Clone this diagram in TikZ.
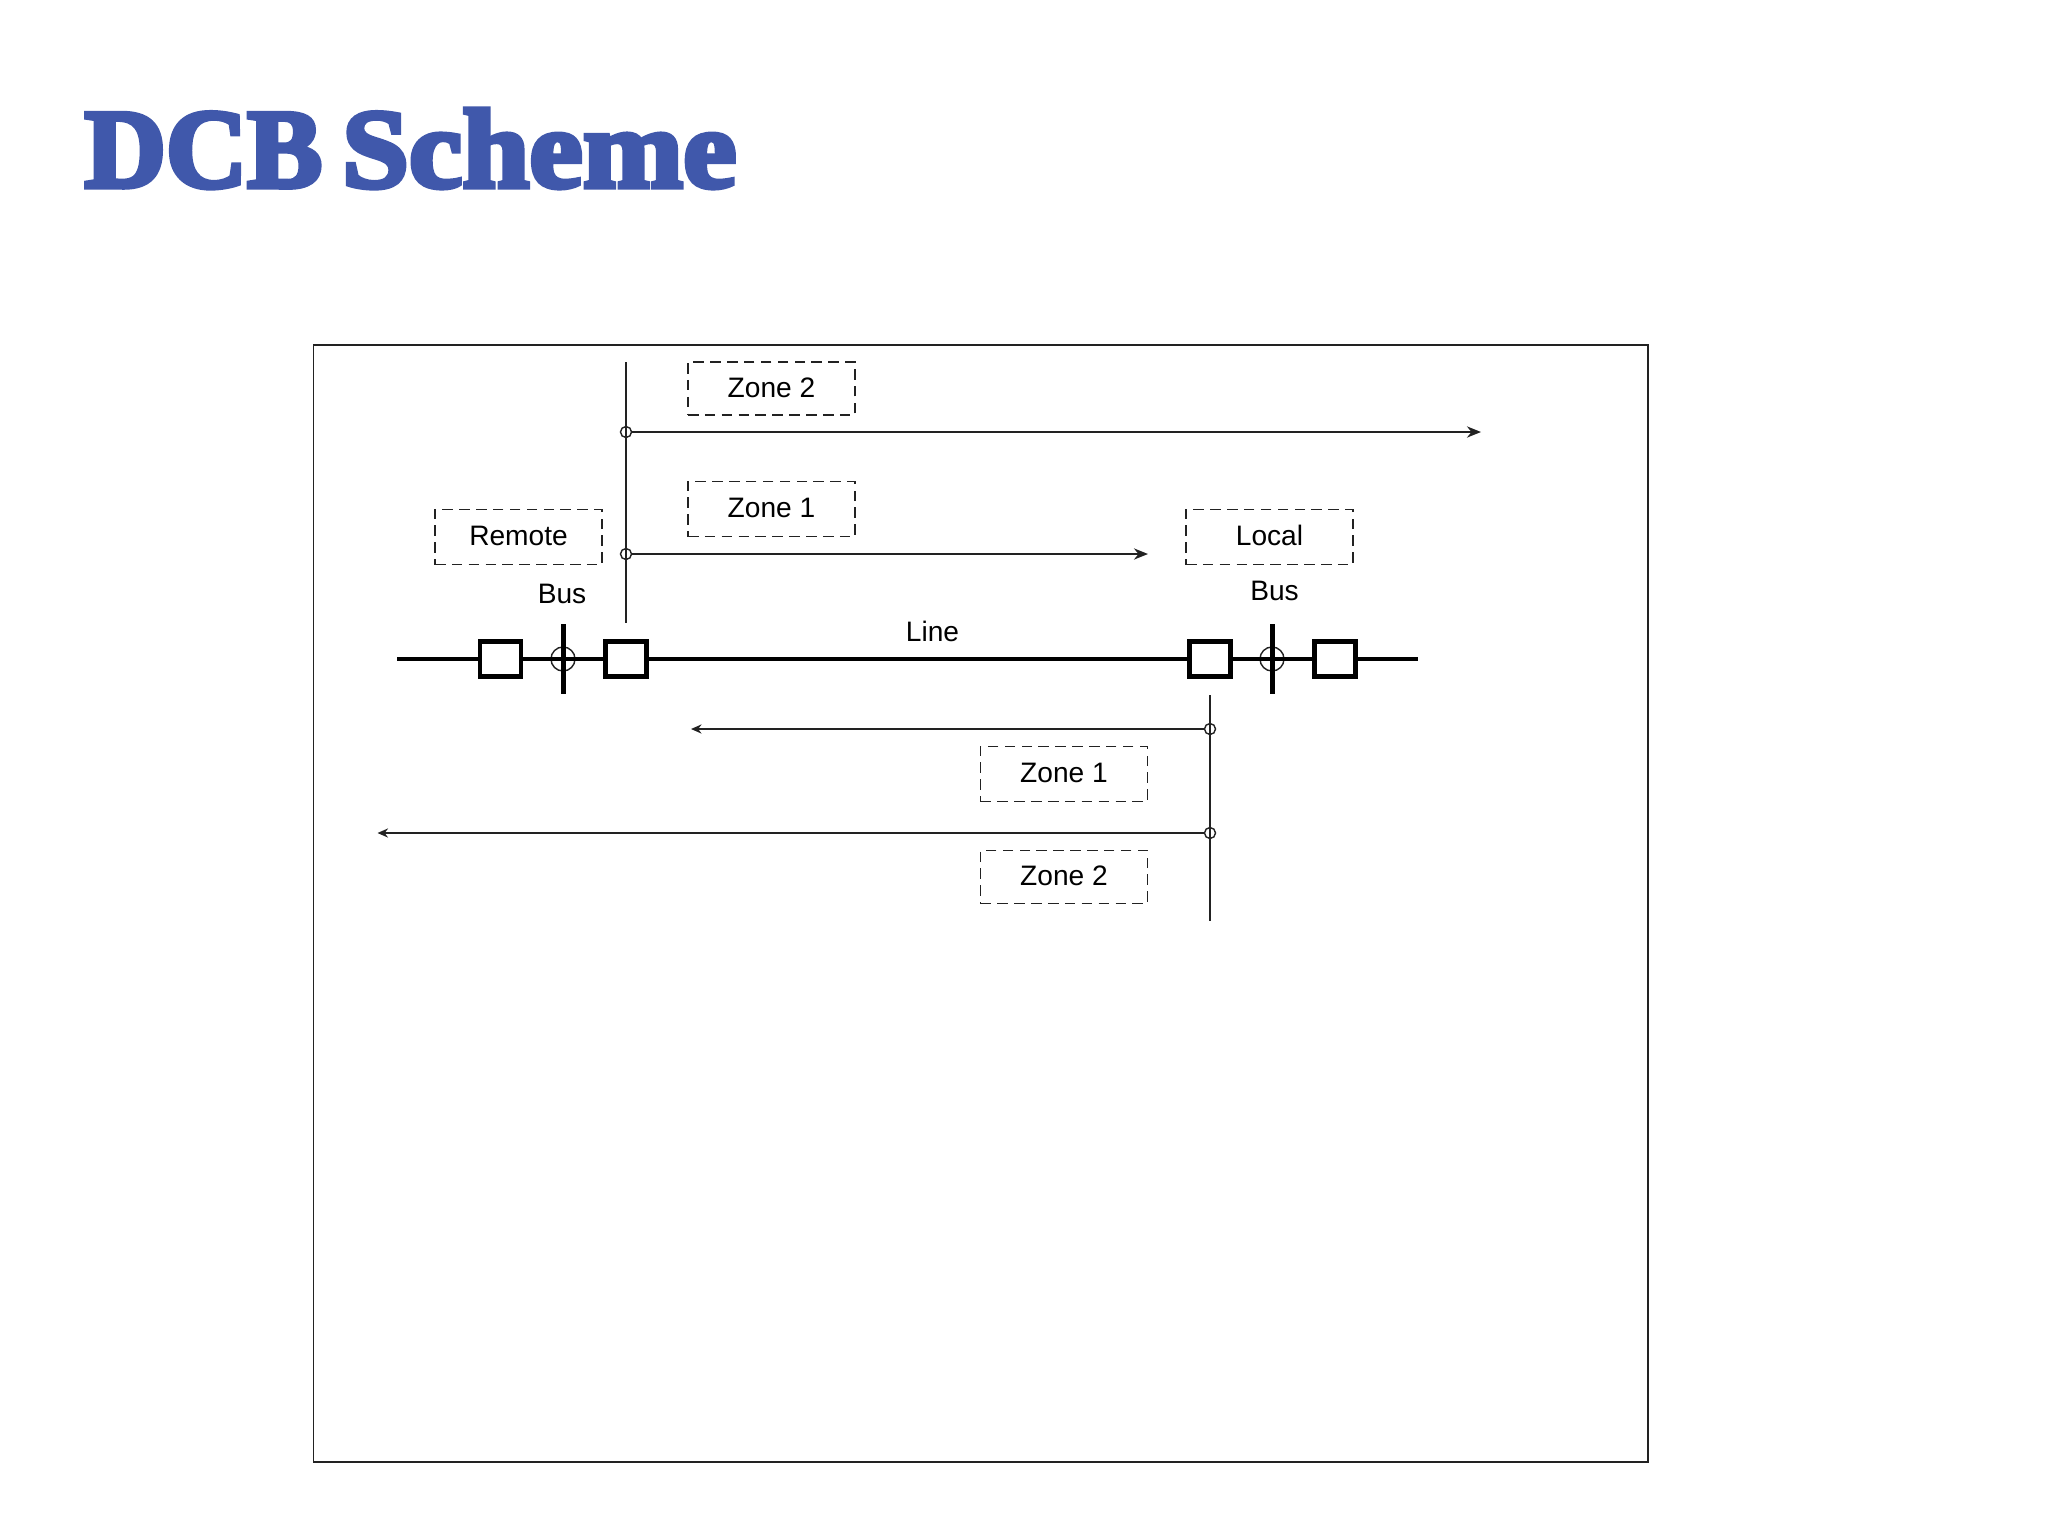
\documentclass[tikz,border=0pt]{standalone}
\usepackage{fontspec}
\usepackage{xcolor}
\usetikzlibrary{arrows.meta, positioning}
\setmainfont{Liberation Sans}
\newfontfamily\titlefont[FakeBold=4.5, WordSpace=0.7]{Liberation Serif Bold}
\definecolor{TitleBlue}{HTML}{4058AB}
\definecolor{InkGrey}{HTML}{222222}
\tikzset{
    zonebox/.style={draw=InkGrey, dashed, dash pattern=on 3pt off 1.8pt, line width=0.5pt, minimum width=1.67cm, minimum height=0.55cm, inner sep=0pt, text height=0.2cm, text depth=0.03cm, font=\fontsize{8}{10}\selectfont},
    plainlabel/.style={inner sep=0pt, font=\fontsize{8}{10}\selectfont},
    breaker/.style={draw=black, rectangle, line width=1.2pt, minimum width=0.41cm, minimum height=0.35cm, inner sep=0pt},
    tapring/.style={draw=InkGrey, circle, line width=0.4pt, minimum size=0.11cm, inner sep=0pt},
    busring/.style={draw=InkGrey, circle, line width=0.4pt, minimum size=0.24cm, inner sep=0pt},
    mainline/.style={line width=1.2pt},
    reach/.style={draw=InkGrey, line width=0.5pt},
    reacharrow/.style={reach, -{Stealth[length=4pt, width=3.2pt]}},
    reacharrowsmall/.style={reach, -{Stealth[length=3pt, width=2.6pt]}}
}
\begin{document}
\begin{tikzpicture}[x=0.01cm, y=-0.01cm]
        \useasboundingbox (0,0) rectangle (2048,1536);

        % Title and frame
        \node[anchor=base west, inner sep=0pt, text=TitleBlue, font=\titlefont\fontsize{32}{36}\selectfont] (title) at (84,187) {DCB {\addfontfeature{FakeStretch=1.07}Scheme}};
        \node[draw=InkGrey, line width=0.5pt, minimum width=13.34cm, minimum height=11.17cm, inner sep=0pt] (frame) at (980.8,903.5) {};

        % Breakers and bus rings
        \node[breaker] (brkA) at (500.5,659) {};
        \node[breaker] (brkB) at (626,659) {};
        \node[breaker] (brkC) at (1210,659) {};
        \node[breaker] (brkD) at (1335,659) {};
        \node[busring] (ringA) at (563,659) {};
        \node[busring] (ringB) at (1272,659) {};

        % Free ends
        \coordinate (lineL) at (397,659);
        \coordinate (lineR) at (1418,659);
        \coordinate (busAtop) at (563.5,624);
        \coordinate (busAbot) at (563.5,694);
        \coordinate (busBtop) at (1272.5,624);
        \coordinate (busBbot) at (1272.5,694);
        \coordinate (relAtop) at (626,362);
        \coordinate (relAbot) at (626,623);
        \coordinate (relBtop) at (1210,695);
        \coordinate (relBbot) at (1210,921);

        % Main line and buses
        \draw[mainline] (lineL) -- (brkA);
        \draw[mainline] (brkA) -- (brkB);
        \draw[mainline] (brkB) -- (brkC);
        \draw[mainline] (brkC) -- (brkD);
        \draw[mainline] (brkD) -- (lineR);
        \draw[mainline] (busAtop) -- (busAbot);
        \draw[mainline] (busBtop) -- (busBbot);

        % Relay reach, remote end
        \draw[reach] (relAtop) -- (relAbot);
        \node[tapring] (tapA2) at (626,432) {};
        \node[tapring] (tapA1) at (626,554) {};
        \coordinate (tipA2) at (1481,432);
        \coordinate (tipA1) at (1148,554);
        \draw[reacharrow] (tapA2) -- (tipA2);
        \draw[reacharrow] (tapA1) -- (tipA1);

        % Relay reach, local end
        \draw[reach] (relBtop) -- (relBbot);
        \node[tapring] (tapB1) at (1210,729) {};
        \node[tapring] (tapB2) at (1210,833) {};
        \coordinate (tipB1) at (691,729);
        \coordinate (tipB2) at (377.5,833);
        \draw[reacharrowsmall] (tapB1) -- (tipB1);
        \draw[reacharrowsmall] (tapB2) -- (tipB2);

        % Dashed labels
        \node[zonebox, minimum height=0.53cm] (zoneAtwo) at (771.5,388.5) {Zone 2};
        \node[zonebox] (zoneAone) at (771.5,509) {Zone 1};
        \node[zonebox] (remote) at (518.5,537) {Remote};
        \node[zonebox] (local) at (1269.5,537) {Local};
        \node[zonebox] (zoneBone) at (1064,774) {Zone 1};
        \node[zonebox, minimum height=0.53cm] (zoneBtwo) at (1064,877) {Zone 2};

        % Plain labels
        \node[plainlabel] (busAlabel) at (562,594) {Bus};
        \node[plainlabel] (busBlabel) at (1274.5,591) {Bus};
        \node[plainlabel] (linelabel) at (932.5,631) {Line};
    \end{tikzpicture}
\end{document}
